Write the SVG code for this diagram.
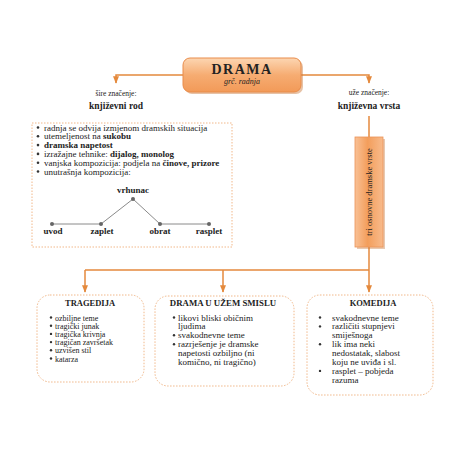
<svg xmlns="http://www.w3.org/2000/svg" width="453" height="453" viewBox="0 0 453 453">
<defs>
<linearGradient id="gDrama" x1="0" y1="0" x2="0" y2="1">
<stop offset="0" stop-color="#fcd6b2"/>
<stop offset="0.5" stop-color="#f6ac72"/>
<stop offset="1" stop-color="#f29a58"/>
</linearGradient>
<linearGradient id="gVert" x1="0" y1="0" x2="1" y2="0">
<stop offset="0" stop-color="#f9c196"/>
<stop offset="0.45" stop-color="#f39e5c"/>
<stop offset="1" stop-color="#f8bb8c"/>
</linearGradient>
<marker id="arr" viewBox="0 0 10 10" refX="9" refY="5" markerWidth="5" markerHeight="5" orient="auto">
<path d="M0,1 L10,5 L0,9 Z" fill="#e4893c"/>
</marker>
<style>
text{font-family:"Liberation Serif","Times New Roman",serif;fill:#222}
.conn{fill:none;stroke:#e4893c;stroke-width:1.5}
.dot{fill:none;stroke:#f1b88a;stroke-width:1;stroke-dasharray:1.5 1.5}
.b{font-weight:bold}
.t{font-size:9px}
.bl{fill:#333}
.gl{stroke:#8a8a8a;stroke-width:1;fill:none}
.gd{fill:#666}
</style>
</defs>
<rect width="453" height="453" fill="#ffffff"/>

<g id="connectors">
<path class="conn" d="M183,75 H116 V83" marker-end="url(#arr)"/>
<path class="conn" d="M301,75 H369 V83" marker-end="url(#arr)"/>
<path class="conn" d="M369,116 V137"/>
<path class="conn" d="M369,247 V270"/>
<path class="conn" d="M85,270 H369"/>
<path class="conn" d="M85,270 V292" marker-end="url(#arr)"/>
<path class="conn" d="M223,270 V292" marker-end="url(#arr)"/>
<path class="conn" d="M369,270 V292" marker-end="url(#arr)"/>
</g>

<g id="drama">
<rect x="185" y="60" width="118" height="34" rx="7" fill="#c9773a" opacity="0.45"/>
<rect x="183" y="58" width="118" height="34" rx="7" fill="url(#gDrama)" stroke="#e98c4a" stroke-width="1"/>
<text x="242" y="74" text-anchor="middle" class="b" style="font-size:14px;letter-spacing:1.5px">DRAMA</text>
<text x="242" y="84" text-anchor="middle" style="font-size:8px;font-style:italic">grč. radnja</text>
</g>

<g id="siri">
<text x="116" y="96" text-anchor="middle" style="font-size:7.5px">šire značenje:</text>
<text x="116" y="109" text-anchor="middle" class="b" style="font-size:9.5px">književni rod</text>
</g>

<g id="uzi">
<text x="369" y="95" text-anchor="middle" style="font-size:7.5px">uže značenje:</text>
<text x="369" y="109" text-anchor="middle" class="b" style="font-size:9.5px">književna vrsta</text>
</g>

<g id="rod-box">
<rect class="dot" x="32" y="123" width="200" height="124"/>
<g class="t">
<circle class="bl" cx="38" cy="127.5" r="1.3"/>
<text x="44" y="130.5">radnja se odvija izmjenom dramskih situacija</text>
<circle class="bl" cx="38" cy="136.3" r="1.3"/>
<text x="44" y="139.3">utemeljenost na <tspan class="b">sukobu</tspan></text>
<circle class="bl" cx="38" cy="145.1" r="1.3"/>
<text x="44" y="148.1" class="b">dramska napetost</text>
<circle class="bl" cx="38" cy="153.9" r="1.3"/>
<text x="44" y="156.9">izražajne tehnike: <tspan class="b">dijalog, monolog</tspan></text>
<circle class="bl" cx="38" cy="162.7" r="1.3"/>
<text x="44" y="165.7">vanjska kompozicija: podjela na <tspan class="b">činove, prizore</tspan></text>
<circle class="bl" cx="38" cy="171.5" r="1.3"/>
<text x="44" y="174.5">unutrašnja kompozicija:</text>
</g>
<polyline class="gl" points="52,224 101,224 133,199 160,224 209,224"/>
<circle class="gd" cx="52" cy="224" r="2"/>
<circle class="gd" cx="101" cy="224" r="2"/>
<circle class="gd" cx="133" cy="199" r="2"/>
<circle class="gd" cx="160" cy="224" r="2"/>
<circle class="gd" cx="209" cy="224" r="2"/>
<g class="t b" text-anchor="middle">
<text x="133" y="193">vrhunac</text>
<text x="53" y="234">uvod</text>
<text x="102" y="234">zaplet</text>
<text x="160" y="234">obrat</text>
<text x="209" y="234">rasplet</text>
</g>
</g>

<g id="vrsta-bar">
<rect x="357" y="139" width="28" height="110" fill="#c9773a" opacity="0.4"/>
<rect x="355" y="137" width="28" height="110" fill="url(#gVert)" stroke="#ea9357" stroke-width="0.8"/>
<text transform="translate(372,192) rotate(-90)" text-anchor="middle" style="font-size:8.5px">tri osnovne dramske vrste</text>
</g>

<g id="tragedija">
<rect class="dot" x="37" y="295" width="107" height="87" rx="13"/>
<text x="90" y="306" text-anchor="middle" class="b" style="font-size:8.5px">TRAGEDIJA</text>
<g style="font-size:8px">
<circle class="bl" cx="51" cy="317.5" r="1.2"/><text x="55" y="320.5">ozbiljne teme</text>
<circle class="bl" cx="51" cy="325.7" r="1.2"/><text x="55" y="328.7">tragički junak</text>
<circle class="bl" cx="51" cy="333.9" r="1.2"/><text x="55" y="336.9">tragička krivnja</text>
<circle class="bl" cx="51" cy="342.1" r="1.2"/><text x="55" y="345.1">tragičan završetak</text>
<circle class="bl" cx="51" cy="350.3" r="1.2"/><text x="55" y="353.3">uzvišen stil</text>
<circle class="bl" cx="51" cy="358.5" r="1.2"/><text x="55" y="361.5">katarza</text>
</g>
</g>

<g id="drama-uzi">
<rect class="dot" x="155" y="296" width="139" height="90" rx="13"/>
<text x="223" y="306" text-anchor="middle" class="b" style="font-size:8.8px">DRAMA U UŽEM SMISLU</text>
<g class="t">
<circle class="bl" cx="174" cy="317.5" r="1.2"/><text x="178" y="320.5">likovi bliski običnim</text>
<text x="178" y="329.4">ljudima</text>
<circle class="bl" cx="174" cy="335.3" r="1.2"/><text x="178" y="338.3">svakodnevne teme</text>
<circle class="bl" cx="174" cy="344.2" r="1.2"/><text x="178" y="347.2">razrješenje je dramske</text>
<text x="178" y="356.1">napetosti ozbiljno (ni</text>
<text x="178" y="365">komično, ni tragično)</text>
</g>
</g>

<g id="komedija">
<rect class="dot" x="307" y="295" width="126" height="100" rx="13"/>
<text x="373" y="306" text-anchor="middle" class="b" style="font-size:8.5px">KOMEDIJA</text>
<g class="t">
<circle class="bl" cx="320" cy="317.5" r="1.2"/><text x="332" y="320.5">svakodnevne teme</text>
<circle class="bl" cx="320" cy="326.4" r="1.2"/><text x="332" y="329.4">različiti stupnjevi</text>
<text x="332" y="338.3">smiješnoga</text>
<circle class="bl" cx="320" cy="344.2" r="1.2"/><text x="332" y="347.2">lik ima neki</text>
<text x="332" y="356.1">nedostatak, slabost</text>
<text x="332" y="365">koju ne uviđa i sl.</text>
<circle class="bl" cx="320" cy="370.9" r="1.2"/><text x="332" y="373.9">rasplet – pobjeda</text>
<text x="332" y="382.8">razuma</text>
</g>
</g>
</svg>
